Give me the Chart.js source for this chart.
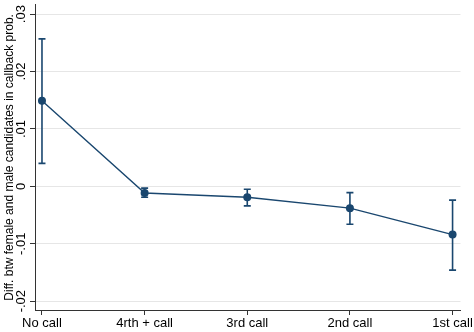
<!DOCTYPE html>
<html>
<head>
<meta charset="utf-8">
<script src="https://cdn.jsdelivr.net/npm/chart.js@4"></script>
<style>
  html, body { margin: 0; padding: 0; background: #fff; }
  #wrap { width: 474px; height: 332px; }
</style>
</head>
<body>
<div id="wrap"><canvas id="grafico"></canvas></div>
<script>
const categorias = ['No call', '4rth + call', '3rd call', '2nd call', '1st call'];
const diferencia = [0.0149, -0.00115, -0.0019, -0.0038, -0.0084];
const ciInferior = [0.0040, -0.0019, -0.0034, -0.0066, -0.0146];
const ciSuperior = [0.0257, -0.0003, -0.0005, -0.0011, -0.0024];
const ticksY = [-0.02, -0.01, 0, 0.01, 0.02, 0.03];
const etiquetasY = ['-.02', '-.01', '0', '.01', '.02', '.03'];

const azul = '#1a476f';
const fuente = 'Arial, "Liberation Sans", sans-serif';

// barras de error con tope en cada extremo
const barrasError = {
    id: 'barrasError',
    afterDatasetsDraw(chart) {
        const ctx = chart.ctx;
        const x = chart.scales.x;
        const y = chart.scales.y;
        ctx.save();
        ctx.strokeStyle = azul;
        ctx.lineWidth = 1.6;
        categorias.forEach((c, i) => {
            const px = x.getPixelForValue(i);
            const yLo = y.getPixelForValue(ciInferior[i]);
            const yHi = y.getPixelForValue(ciSuperior[i]);
            ctx.beginPath();
            ctx.moveTo(px, yLo);
            ctx.lineTo(px, yHi);
            ctx.moveTo(px - 3.5, yLo);
            ctx.lineTo(px + 3.5, yLo);
            ctx.moveTo(px - 3.5, yHi);
            ctx.lineTo(px + 3.5, yHi);
            ctx.stroke();
        });
        ctx.restore();
    }
};

const ctx = document.getElementById('grafico').getContext('2d');

new Chart(ctx, {
    type: 'line',
    data: {
        datasets: [{
            data: diferencia.map((v, i) => ({ x: i, y: v })),
            borderColor: azul,
            backgroundColor: azul,
            borderWidth: 1.4,
            pointRadius: 4,
            pointBackgroundColor: azul,
            pointBorderWidth: 0,
            tension: 0
        }]
    },
    options: {
        responsive: true,
        maintainAspectRatio: false,
        animation: false,
        layout: { padding: { top: 0, right: 11, bottom: 0, left: 0 } },
        plugins: {
            legend: { display: false },
            tooltip: { enabled: false }
        },
        scales: {
            x: {
                type: 'linear',
                min: -0.068,
                max: 4.077,
                afterBuildTicks: (scale) => {
                    scale.ticks = categorias.map((c, i) => ({ value: i }));
                },
                afterFit: (scale) => { scale.height = 22; },
                grid: {
                    drawOnChartArea: false,
                    drawTicks: true,
                    tickLength: 5,
                    tickColor: '#333'
                },
                border: { color: '#333', width: 1 },
                ticks: {
                    color: '#000',
                    font: { family: fuente, size: 13 },
                    padding: 1,
                    maxRotation: 0,
                    autoSkip: false,
                    callback: (v) => categorias[v]
                }
            },
            y: {
                min: -0.02154,
                max: 0.03163,
                afterBuildTicks: (scale) => {
                    scale.ticks = ticksY.map(v => ({ value: v }));
                },
                afterFit: (scale) => { scale.width = 35; },
                grid: {
                    color: '#e6e6e6',
                    lineWidth: 1,
                    drawTicks: true,
                    tickLength: 5,
                    tickColor: '#333'
                },
                border: { color: '#333', width: 1 },
                title: {
                    display: true,
                    text: 'Diff. btw female and male candidates in callback prob.',
                    color: '#000',
                    font: { family: fuente, size: 12 },
                    padding: { top: 2, bottom: 0 }
                },
                ticks: {
                    color: '#000',
                    font: { family: fuente, size: 13 },
                    minRotation: 90,
                    maxRotation: 90,
                    crossAlign: 'center',
                    padding: -3,
                    autoSkip: false,
                    callback: (v) => {
                        const k = ticksY.findIndex(t => Math.abs(t - v) < 1e-9);
                        return k >= 0 ? etiquetasY[k] : '';
                    }
                }
            }
        }
    },
    plugins: [barrasError]
});
</script>
</body>
</html>
